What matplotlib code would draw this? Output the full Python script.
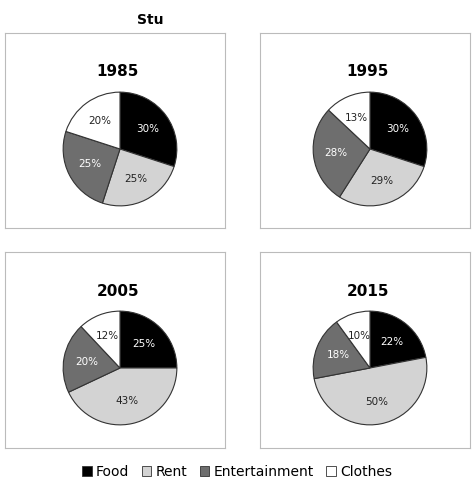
import matplotlib
matplotlib.use('Agg')
import matplotlib.pyplot as plt
import matplotlib.patches as mpatches

years = ["1985", "1995", "2005", "2015"]
categories = ["Food", "Rent", "Entertainment", "Clothes"]
shares = [
    [30, 25, 25, 20],
    [30, 29, 28, 13],
    [25, 43, 20, 12],
    [22, 50, 18, 10],
]
colors = ["#000000", "#d3d3d3", "#6e6e6e", "#ffffff"]
text_colors = ["white", "#222222", "white", "#222222"]

fig = plt.figure(figsize=(4.74, 4.88), dpi=100)
W, H = 474.0, 488.0

fig.text(150 / W, 1 - 20 / H, "Stu", fontsize=10, fontweight='bold', ha='center', va='center')

# panel boxes in pixels: left, top, width, height
boxes = [(5, 33, 220, 195), (260, 33, 210, 195), (5, 252, 220, 196), (260, 252, 210, 196)]

for (x, y, w, h), year, vals in zip(boxes, years, shares):
    ax = fig.add_axes([x / W, 1 - (y + h) / H, w / W, h / H])
    ax.set_xlim(0, w)
    ax.set_ylim(h, 0)
    ax.set_xticks([])
    ax.set_yticks([])
    for s in ax.spines.values():
        s.set_color('#bbbbbb')
        s.set_linewidth(0.8)
    ax.text(w / 2 + 3, 39, year, fontsize=11, fontweight='bold', ha='center', va='center')
    # pie axis
    cx, cy, r = x + w / 2 + 5, y + 116, 58
    pax = fig.add_axes([(cx - r) / W, 1 - (cy + r) / H, 2 * r / W, 2 * r / H])
    wedges, texts = pax.pie(vals, colors=colors, startangle=90, counterclock=False,
                            labels=[f"{v}%" for v in vals], labeldistance=0.6,
                            wedgeprops=dict(edgecolor='#333333', linewidth=0.8),
                            textprops=dict(fontsize=7.5, ha='center', va='center'))
    for t, c in zip(texts, text_colors):
        t.set_color(c)
        t.set_horizontalalignment('center')
    pax.set_xlim(-1.02, 1.02)
    pax.set_ylim(-1.02, 1.02)
    pax.set_aspect('equal')

handles = [mpatches.Patch(facecolor=c, edgecolor='#333333', linewidth=0.6, label=l)
           for c, l in zip(colors, categories)]
fig.legend(handles=handles, loc='center', bbox_to_anchor=(0.5, 1 - 472 / H), ncol=4,
           frameon=False, fontsize=10, handlelength=0.7, handleheight=0.7,
           handletextpad=0.3, columnspacing=0.9)

fig.savefig('out.png', dpi=100)
